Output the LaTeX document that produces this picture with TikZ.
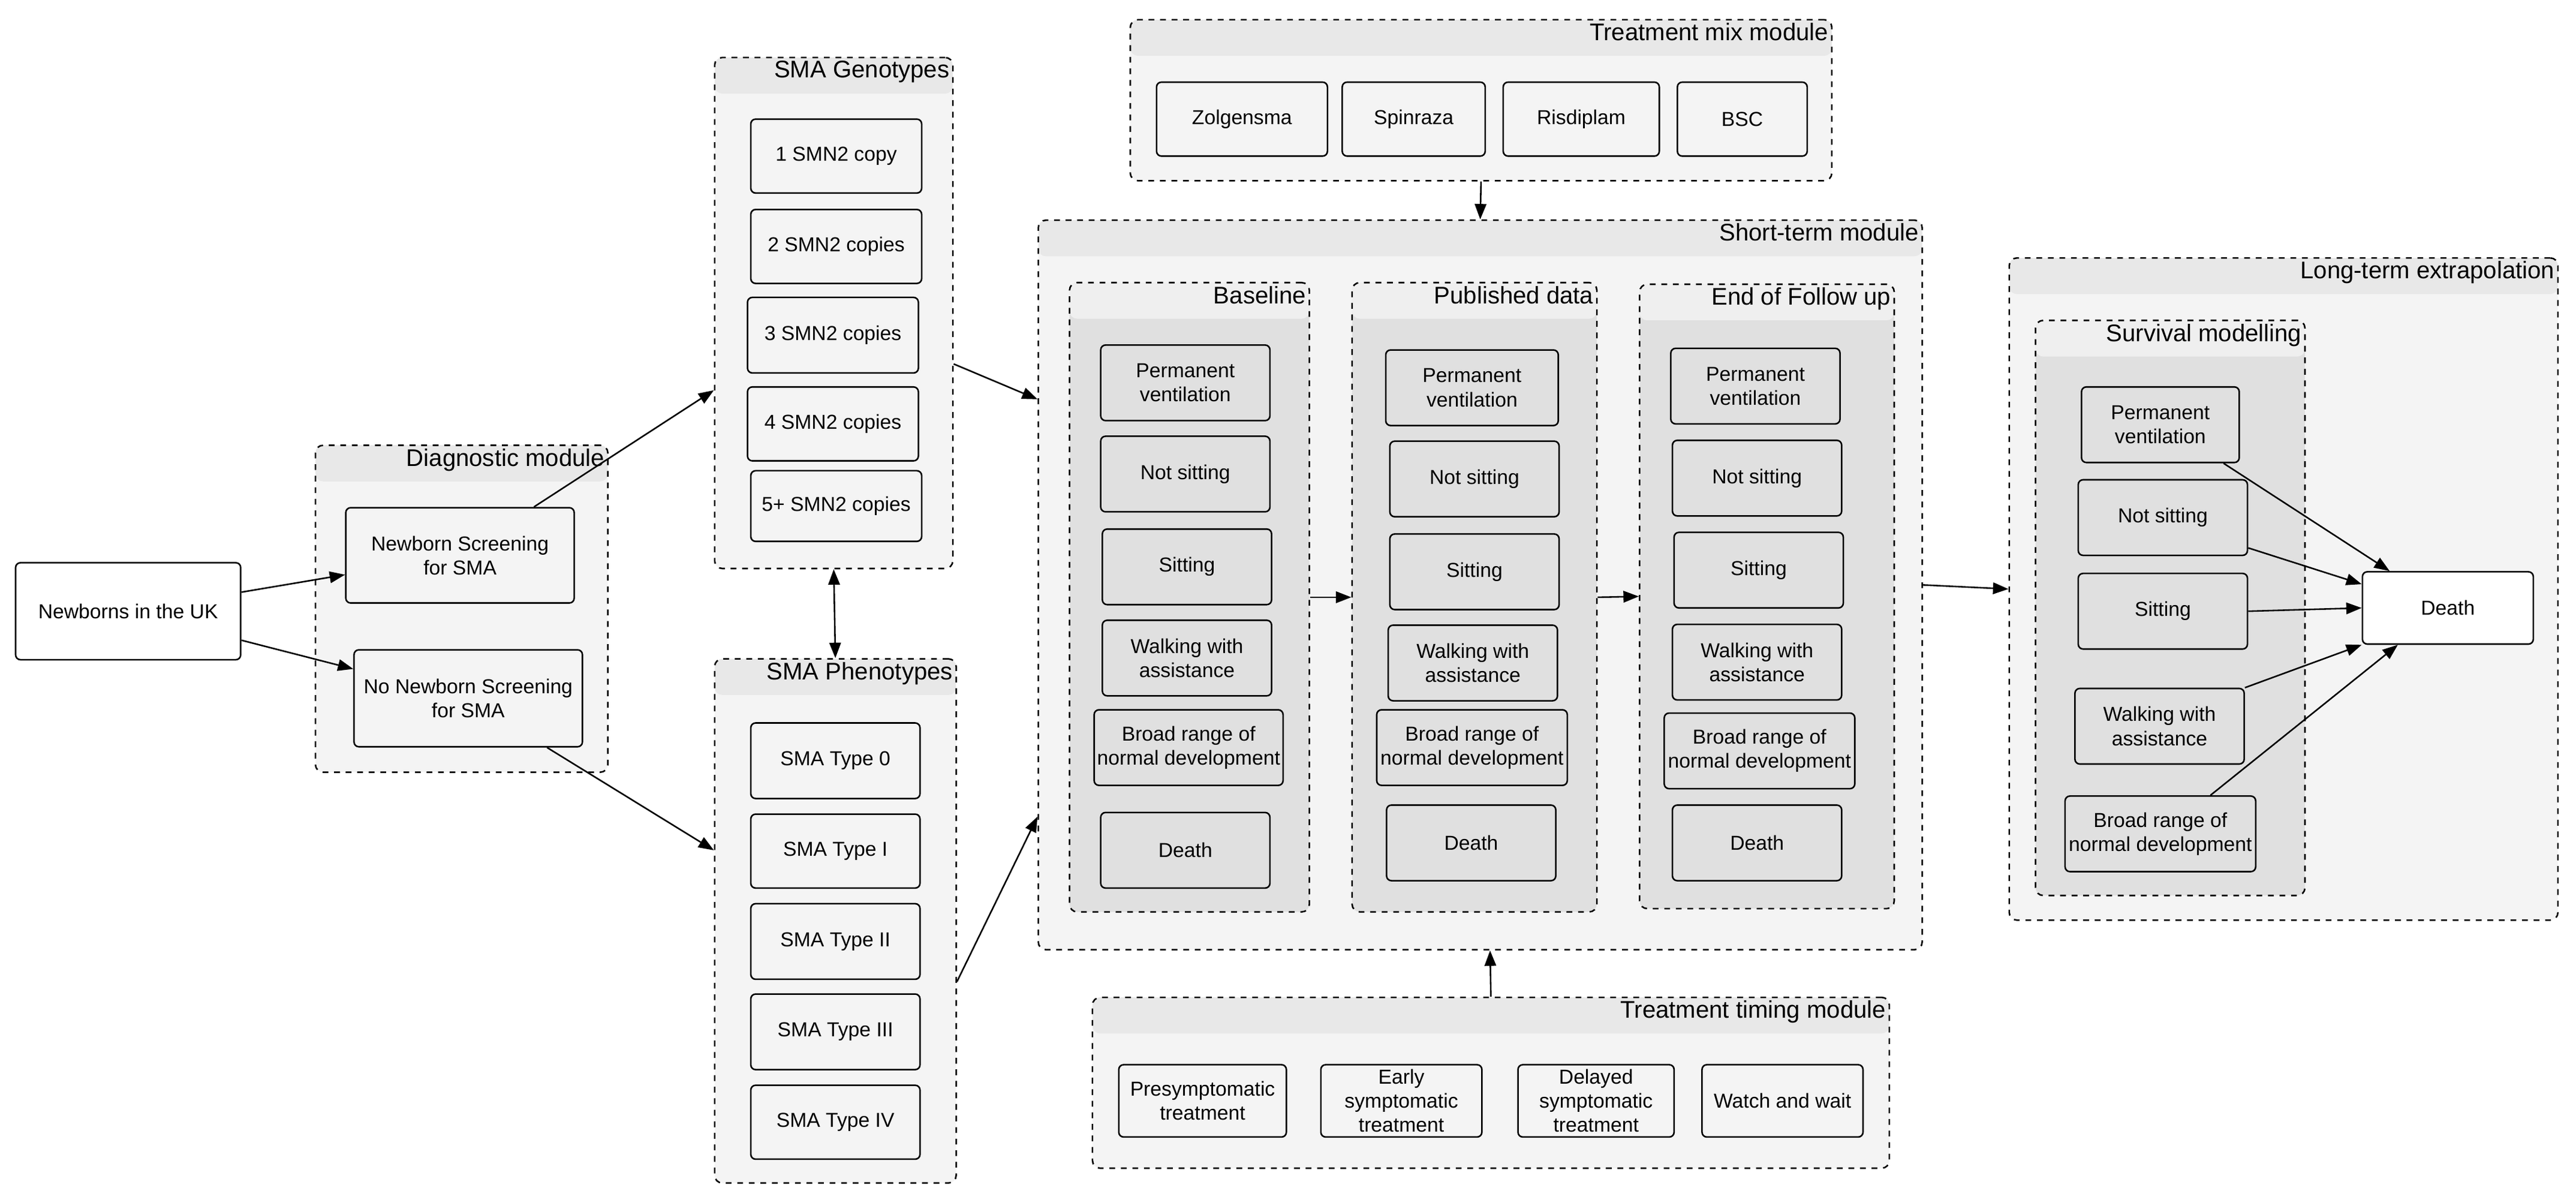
\documentclass[tikz,border=0pt]{standalone}
\usepackage{fontspec}
\setmainfont{Liberation Sans}
\usetikzlibrary{arrows.meta}
\definecolor{modfill}{RGB}{244,244,244}
\definecolor{modhead}{RGB}{232,232,232}
\definecolor{subfill}{RGB}{224,224,224}
\definecolor{subhead}{RGB}{239,239,239}
\tikzset{
  wh/.style 2 args={minimum width=#1*0.3mm, minimum height=#2*0.3mm},
  box/.style={draw, rounded corners=2.5pt, fill=modfill, align=center, inner sep=1pt, line width=0.8pt, font=\fontsize{10.5}{12.5}\selectfont},
  sbox/.style={box, fill=subfill},
  module/.style={draw, dashed, rounded corners=4pt, fill=modfill, line width=0.8pt,
    path picture={\fill[modhead] (path picture bounding box.north west) rectangle ([yshift=-22*0.3mm]path picture bounding box.north east);}},
  submodule/.style={draw, dashed, rounded corners=4pt, fill=subfill, line width=0.8pt,
    path picture={\fill[subhead] (path picture bounding box.north west) rectangle ([yshift=-22*0.3mm]path picture bounding box.north east);}},
  title/.style={anchor=north east, inner sep=2pt, font=\fontsize{12.5}{14}\selectfont},
  arr/.style={-{Triangle[length=8pt,width=6pt]}, line width=0.8pt},
}
\begin{document}
\begin{tikzpicture}[x=0.03cm,y=-0.03cm]
\useasboundingbox[fill=white] (0,0) rectangle (1568,730);
% modules
\node[module, wh={178}{199}] (diag) at (281,370.5) {};
\node[title] (diagt) at (diag.north east) {Diagnostic module};
\node[module, wh={145}{311}] (geno) at (507.5,190.5) {};
\node[title] (genot) at (geno.north east) {SMA Genotypes};
\node[module, wh={147}{319}] (pheno) at (508.5,560.5) {};
\node[title] (phenot) at (pheno.north east) {SMA Phenotypes};
\node[module, wh={427}{98}] (mix) at (901.5,61) {};
\node[title] (mixt) at (mix.north east) {Treatment mix module};
\node[module, wh={538}{444}] (short) at (901,356) {};
\node[title] (shortt) at (short.north east) {Short-term module};
\node[submodule, wh={146}{383}] (base) at (724,363.5) {};
\node[title] (baset) at (base.north east) {Baseline};
\node[submodule, wh={149}{383}] (pub) at (897.5,363.5) {};
\node[title] (pubt) at (pub.north east) {Published data};
\node[submodule, wh={155}{380}] (eof) at (1075.5,363) {};
\node[title] (eoft) at (eof.north east) {End of Follow up};
\node[module, wh={485}{104}] (timing) at (907.5,659) {};
\node[title] (timingt) at (timing.north east) {Treatment timing module};
\node[module, wh={334}{403}] (longt) at (1390,358.5) {};
\node[title] (longtt) at (longt.north east) {Long-term extrapolation};
\node[submodule, wh={164}{350}] (surv) at (1321,370) {};
\node[title] (survt) at (surv.north east) {Survival modelling};

% boxes
\node[box, fill=white, wh={137}{59}] (nb) at (78,372) {Newborns in the UK};
\node[box, wh={139}{58}] (nbs) at (280,338) {Newborn Screening\\for SMA};
\node[box, wh={139}{59}] (nonbs) at (285,425) {No Newborn Screening\\for SMA};

\node[box, wh={104}{45}] (g1) at (509,95) {1 SMN2 copy};
\node[box, wh={104}{45}] (g2) at (509,150) {2 SMN2 copies};
\node[box, wh={104}{46}] (g3) at (507,204) {3 SMN2 copies};
\node[box, wh={104}{45}] (g4) at (507,258) {4 SMN2 copies};
\node[box, wh={104}{43}] (g5) at (509,308) {5+ SMN2 copies};

\node[box, wh={103}{46}] (p0) at (508.5,463) {SMA Type 0};
\node[box, wh={103}{45}] (p1) at (508.5,518) {SMA Type I};
\node[box, wh={103}{46}] (p2) at (508.5,573) {SMA Type II};
\node[box, wh={103}{46}] (p3) at (508.5,628) {SMA Type III};
\node[box, wh={103}{45}] (p4) at (508.5,683) {SMA Type IV};

\node[box, wh={104}{45}] (zol) at (756,72.5) {Zolgensma};
\node[box, wh={87}{45}] (spin) at (860.5,72.5) {Spinraza};
\node[box, wh={95}{45}] (ris) at (962.5,72.5) {Risdiplam};
\node[box, wh={79}{45}] (bsc) at (1060.5,72.5) {BSC};

\node[box, wh={102}{44}] (pre) at (732,670) {Presymptomatic\\treatment};
\node[box, wh={98}{44}] (early) at (853,670) {Early\\symptomatic\\treatment};
\node[box, wh={95}{44}] (delay) at (971.5,670) {Delayed\\symptomatic\\treatment};
\node[box, wh={98}{44}] (watch) at (1085,670) {Watch and wait};

\node[sbox, wh={103}{46}] (bpv) at (721.5,233) {Permanent\\ventilation};
\node[sbox, wh={103}{46}] (bns) at (721.5,288.5) {Not sitting};
\node[sbox, wh={103}{46}] (bsi) at (722.5,345) {Sitting};
\node[sbox, wh={103}{46}] (bwa) at (722.5,400.5) {Walking with\\assistance};
\node[sbox, wh={115}{46}] (bbr) at (723.5,455) {Broad range of\\normal development};
\node[sbox, wh={103}{46}] (bde) at (721.5,517.5) {Death};

\node[sbox, wh={105}{46}] (ppv) at (896,236) {Permanent\\ventilation};
\node[sbox, wh={103}{46}] (pns) at (897.5,291.5) {Not sitting};
\node[sbox, wh={103}{46}] (psi) at (897.5,348) {Sitting};
\node[sbox, wh={103}{46}] (pwa) at (896.5,403.5) {Walking with\\assistance};
\node[sbox, wh={116}{46}] (pbr) at (896,455) {Broad range of\\normal development};
\node[sbox, wh={103}{46}] (pde) at (895.5,513) {Death};

\node[sbox, wh={103}{46}] (epv) at (1068.5,235) {Permanent\\ventilation};
\node[sbox, wh={103}{46}] (ens) at (1069.5,291) {Not sitting};
\node[sbox, wh={103}{46}] (esi) at (1070.5,347) {Sitting};
\node[sbox, wh={103}{46}] (ewa) at (1069.5,403) {Walking with\\assistance};
\node[sbox, wh={116}{46}] (ebr) at (1071,457) {Broad range of\\normal development};
\node[sbox, wh={103}{46}] (ede) at (1069.5,513) {Death};

\node[sbox, wh={96}{46}] (spv) at (1315,258.5) {Permanent\\ventilation};
\node[sbox, wh={103}{46}] (sns) at (1316.5,315) {Not sitting};
\node[sbox, wh={103}{46}] (ssi) at (1316.5,372) {Sitting};
\node[sbox, wh={103}{46}] (swa) at (1314.5,442) {Walking with\\assistance};
\node[sbox, wh={116}{46}] (sbr) at (1315,507.5) {Broad range of\\normal development};
\node[box, fill=white, wh={104}{44}] (death) at (1490,370) {Death};

% connectors
\draw[arr] (nb) -- (nbs);
\draw[arr] (nb) -- (nonbs);
\draw[arr] ([xshift=45*0.3mm]nbs.north) -- ([yshift=-47*0.3mm]geno.west);
\draw[arr] ([xshift=48*0.3mm]nonbs.south) -- ([yshift=43*0.3mm]pheno.west);
\draw[{Triangle[length=8pt,width=6pt]}-{Triangle[length=8pt,width=6pt]}, line width=0.8pt] (geno.south) -- (pheno.north);
\draw[arr] ([yshift=-31*0.3mm]geno.east) -- ([yshift=113*0.3mm]short.west);
\draw[arr] ([yshift=-37*0.3mm]pheno.east) -- ([yshift=-141*0.3mm]short.west);
\draw[arr] (mix.south) -- (short.north);
\draw[arr] (timing.north) -- ([xshift=6*0.3mm]short.south);
\draw[arr] (base.east) -- (pub.west);
\draw[arr] (pub.east) -- (eof.west);
\draw[arr] (short.east) -- (longt.west);
\draw[arr] ([xshift=-10*0.3mm]spv.south east) -- ([xshift=17*0.3mm]death.north west);
\draw[arr] ([yshift=5*0.3mm]sns.south east) -- ([yshift=-8*0.3mm]death.north west);
\draw[arr] (ssi.east) -- (death.west);
\draw[arr] (swa.north east) -- (death.south west);
\draw[arr] ([xshift=-28*0.3mm]sbr.north east) -- ([xshift=22*0.3mm]death.south west);
\end{tikzpicture}
\end{document}
